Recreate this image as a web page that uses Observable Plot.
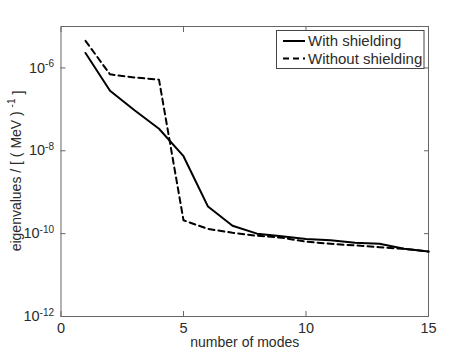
<!DOCTYPE html>
<html>
<head>
<meta charset="utf-8">
<script src="https://cdn.jsdelivr.net/npm/d3@7"></script>
<script src="https://cdn.jsdelivr.net/npm/@observablehq/plot@0.6"></script>
<style>
  html, body { margin: 0; padding: 0; background: white; }
  #chart { width: 474px; height: 352px; }
</style>
</head>
<body>
<div id="chart"></div>
<script>
const modes = [1, 2, 3, 4, 5, 6, 7, 8, 9, 10, 11, 12, 13, 14, 15];
const withShielding = [2.3e-6, 2.8e-7, 9.5e-8, 3.4e-8, 7.4e-9, 4.5e-10, 1.55e-10, 1.0e-10, 8.6e-11, 7.4e-11, 6.9e-11, 6.0e-11, 5.7e-11, 4.3e-11, 3.7e-11];
const withoutShielding = [4.5e-6, 7.0e-7, 5.9e-7, 5.2e-7, 2.1e-10, 1.3e-10, 1.05e-10, 8.9e-11, 8.0e-11, 6.4e-11, 5.7e-11, 5.2e-11, 4.7e-11, 4.3e-11, 3.7e-11];
const seriesNames = ["With shielding", "Without shielding"];
const xTicks = [0, 5, 10, 15];
const yTicks = [1e-12, 1e-10, 1e-8, 1e-6];
const xLabel = "number of modes";
const yLabelMain = "eigenvalues / [ ( MeV ) ";
const yLabelSup = "-1";
const yLabelEnd = " ]";

const rows = [];
modes.forEach((m, i) => {
  rows.push({mode: m, value: withShielding[i], series: seriesNames[0]});
  rows.push({mode: m, value: withoutShielding[i], series: seriesNames[1]});
});

const font = "'Liberation Sans', Arial, Helvetica, sans-serif";
const textColor = "#2b2b2b";
const axisColor = "#666";

const svg = Plot.plot({
  width: 474,
  height: 352,
  marginLeft: 60.5,
  marginRight: 46,
  marginTop: 26,
  marginBottom: 36,
  style: {fontFamily: font, fontSize: "14px", color: textColor, background: "white"},
  x: {domain: [0, 15]},
  y: {type: "log", domain: [1e-12, 1e-5]},
  marks: [
    Plot.frame({stroke: axisColor, strokeWidth: 1}),
    Plot.axisX({ticks: xTicks, tickSize: 0, tickPadding: 6, tickFormat: d => String(d), label: null, fontSize: 14.5}),
    Plot.axisX({ticks: xTicks, tickSize: -5, tickFormat: () => "", label: null, stroke: axisColor}),
    Plot.axisX({anchor: "top", ticks: xTicks, tickSize: -5, tickFormat: () => "", label: null, stroke: axisColor}),
    Plot.axisY({ticks: yTicks, tickSize: 0, tickPadding: 7, tickFormat: d => "10^" + Math.round(Math.log10(d)), label: null, fontSize: 14.5}),
    Plot.axisY({ticks: yTicks, tickSize: -5, tickFormat: () => "", label: null, stroke: axisColor}),
    Plot.axisY({anchor: "right", ticks: yTicks, tickSize: -5, tickFormat: () => "", label: null, stroke: axisColor}),
    Plot.line(rows.filter(d => d.series === seriesNames[0]), {x: "mode", y: "value", stroke: "black", strokeWidth: 2}),
    Plot.line(rows.filter(d => d.series === seriesNames[1]), {x: "mode", y: "value", stroke: "black", strokeWidth: 2, strokeDasharray: "6,4"}),
    Plot.text([xLabel], {frameAnchor: "bottom", dy: 26, lineAnchor: "middle", fontSize: 14, fill: textColor})
  ]
});

document.getElementById("chart").appendChild(svg);
const s = d3.select(svg);

// superscript exponents on y tick labels
s.selectAll('g[aria-label="y-axis tick label"] text').each(function() {
  const t = this.textContent;
  if (!t.includes("^")) return;
  const [base, exp] = t.split("^");
  const el = d3.select(this);
  el.text(base);
  el.append("tspan").attr("dy", "-0.55em").attr("font-size", "10px").text(exp);
});

// y axis label
const yl = s.append("text")
  .attr("transform", "translate(17,171) rotate(-90)")
  .attr("text-anchor", "middle")
  .attr("dominant-baseline", "middle")
  .attr("font-family", font)
  .attr("font-size", 14)
  .attr("fill", textColor);
yl.append("tspan").text(yLabelMain);
yl.append("tspan").attr("dy", "-0.5em").attr("font-size", "10px").text(yLabelSup);
yl.append("tspan").attr("dy", "0.5em").text(yLabelEnd);

// legend
const lg = s.append("g").attr("text-anchor", "start");
lg.append("rect").attr("x", 276.5).attr("y", 30.5).attr("width", 147.5).attr("height", 38)
  .attr("fill", "white").attr("stroke", "#444").attr("stroke-width", 1);
const dashes = [null, "6,4"];
seriesNames.forEach((name, i) => {
  const y = 41 + i * 17.5;
  lg.append("line").attr("x1", 283).attr("x2", 305).attr("y1", y).attr("y2", y)
    .attr("stroke", "black").attr("stroke-width", 2)
    .attr("stroke-dasharray", dashes[i]);
  lg.append("text").attr("x", 308).attr("y", y).attr("dy", "0.35em")
    .attr("text-anchor", "start")
    .attr("font-family", font).attr("font-size", 15).attr("fill", textColor).text(name);
});
</script>
</body>
</html>
